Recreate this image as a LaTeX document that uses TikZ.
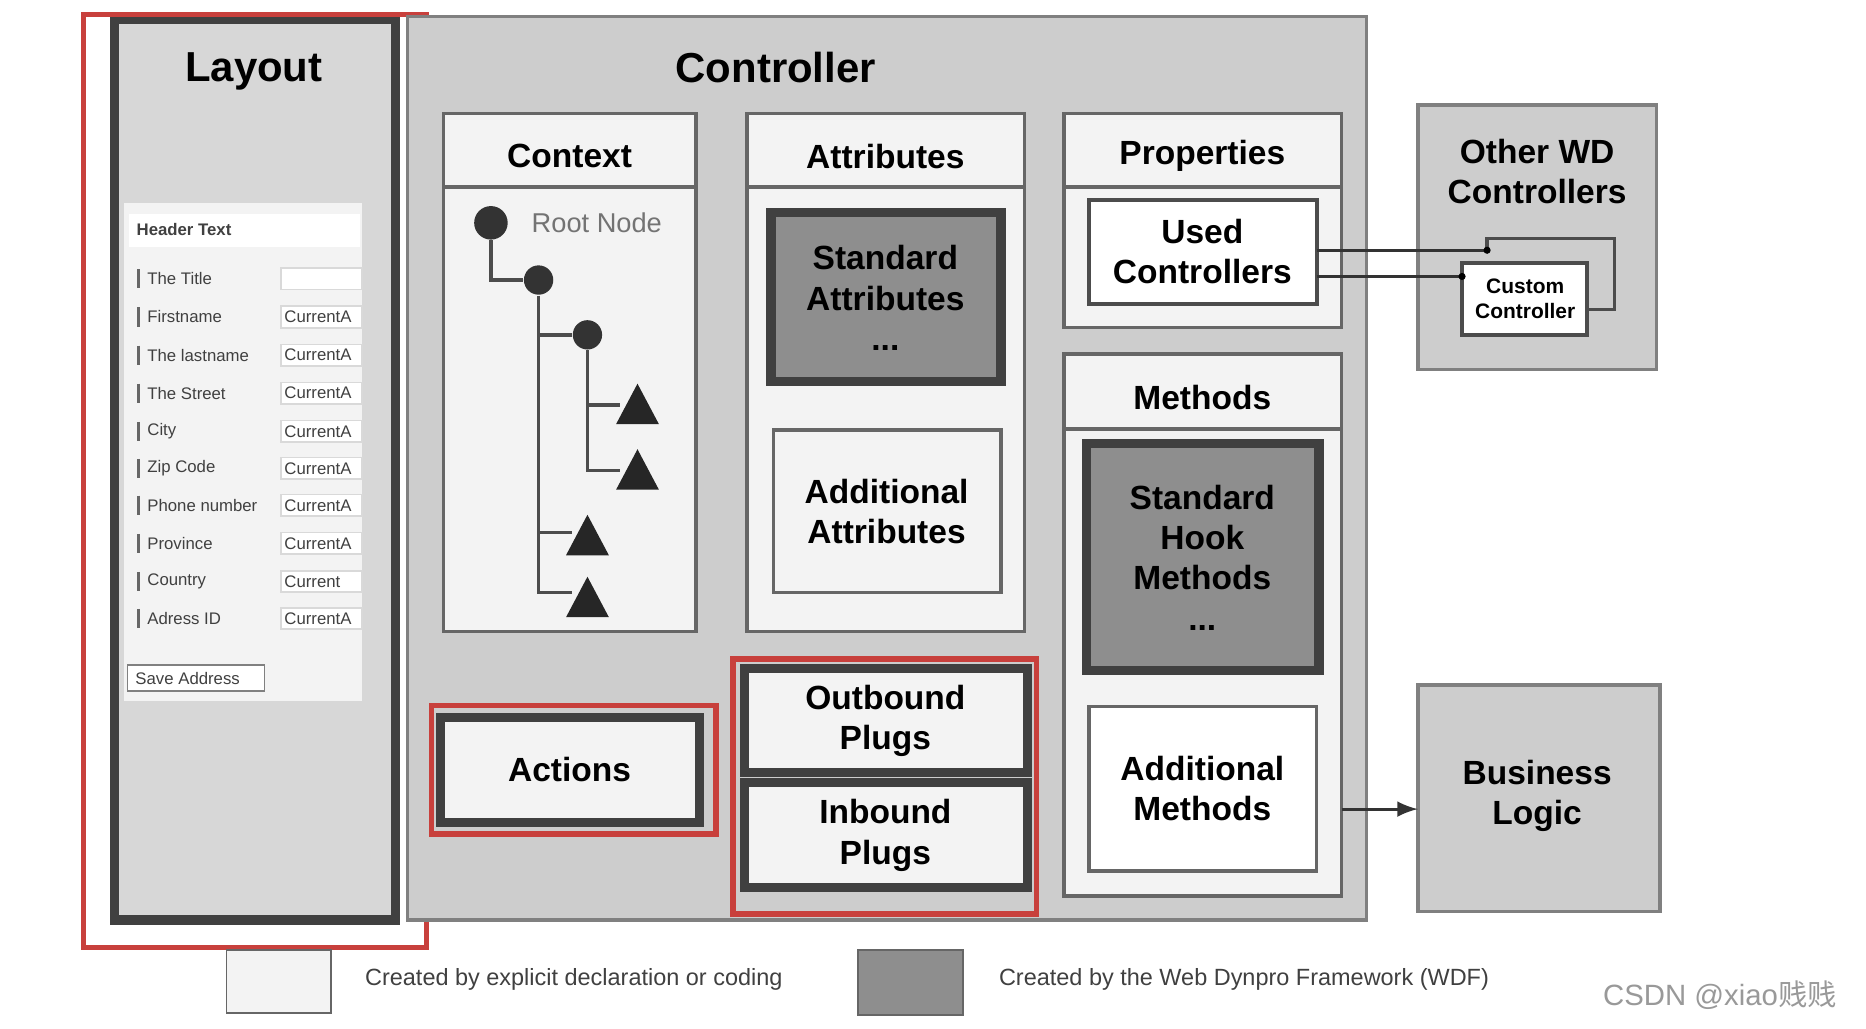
\documentclass[tikz,border=0pt]{standalone}
\usepackage{fontspec}
\setmainfont{Liberation Sans}
\newfontfamily\cjk{Noto Sans CJK SC}
\usetikzlibrary{positioning}
\definecolor{lightbox}{HTML}{F3F3F3}
\definecolor{midgray}{HTML}{CDCDCD}
\definecolor{darkbox}{HTML}{8E8E8E}
\definecolor{redline}{HTML}{C8403C}
\tikzset{
  pane/.style = {draw=black!60, line width=0.8pt, fill=lightbox},
  hdr/.style = {font=\bfseries\fontsize{8}{10}\selectfont},
  boxtxt/.style = {font=\bfseries\fontsize{8}{9.6}\selectfont, align=center},
  thickbox/.style = {draw=black!75, line width=2.2pt},
  redbox/.style = {draw=redline, line width=1.3pt},
  small/.style = {font=\fontsize{4}{5}\selectfont, text=black!75, anchor=west, inner sep=0pt},
  dot/.style = {circle, fill=black!80, minimum size=7pt, inner sep=0pt},
  tri/.style = {fill=black!85}
}
\begin{document}
\begin{tikzpicture}[x=0.01cm, y=-0.01cm]
\useasboundingbox (0,0) rectangle (1566,863);
\fill[white] (0,0) rectangle (1566,863);

% layout
\draw[thickbox, fill=midgray!80] (96,16) rectangle (332,772);
\node[font=\bfseries\fontsize{10}{12}\selectfont] (layout) at (213,60) {Layout};
\fill[lightbox] (104,170) rectangle (304,588);
\fill[white] (108,180) rectangle (302,207);
\node[small, font=\bfseries\fontsize{4}{5}\selectfont] (header) at (114,193) {Header Text};
\foreach \t/\y/\v in {The Title/234/, Firstname/266/CurrentA, The lastname/298/CurrentA,
  The Street/330/CurrentA, City/362/CurrentA, Zip Code/393/CurrentA, Phone number/424/CurrentA,
  Province/456/CurrentA, Country/488/Current, Adress ID/519/CurrentA} {
  \draw[black!60, line width=0.8pt] (116,\y-8) -- (116,\y+8);
  \node[small] at (123,\y) {\t};
  \draw[black!15, fill=white] (236,\y-9) rectangle (304,\y+9);
  \node[small] at (238,\y) {\v};
}
\draw[black!50, fill=white] (107,558) rectangle (222,580);
\node[small] (save) at (113,569) {Save Address};
\draw[redbox] (70,12) rectangle (358,795);

% controller
\draw[draw=black!50, line width=0.8pt, fill=midgray] (342,14) rectangle (1147,772);
\node[font=\bfseries\fontsize{10}{12}\selectfont] (ctrl) at (651,57) {Controller};

% context
\draw[pane] (372,95) rectangle (584,530);
\draw[black!60, line width=0.8pt] (372,157) -- (584,157);
\node[hdr] (context) at (478,131) {Context};
\node[dot, minimum size=8pt] (root) at (412,187) {};
\node[font=\fontsize{6.5}{8}\selectfont, text=black!55, right=2pt of root] (rootlbl) {Root Node};
\node[dot] (n1) at (452,235) {};
\node[dot] (n2) at (493,281) {};
\draw[black!70, line width=0.8pt] (root) |- (n1);
\draw[black!70, line width=0.8pt] (n1) -- (452,497) -- (480,497);
\draw[black!70, line width=0.8pt] (452,281) -- (n2);
\draw[black!70, line width=0.8pt] (452,447) -- (480,447);
\draw[black!70, line width=0.8pt] (n2) -- (493,395) -- (520,395);
\draw[black!70, line width=0.8pt] (493,340) -- (520,340);
\foreach \x/\y in {535/340, 535/395, 493/450, 493/502}
  \fill[tri] (\x-18,\y+16) -- (\x,\y-18) -- (\x+18,\y+16) -- cycle;

% attributes
\draw[pane] (627,95) rectangle (860,530);
\draw[black!60, line width=0.8pt] (627,157) -- (860,157);
\node[hdr] (attr) at (743,131) {Attributes};
\draw[thickbox, fill=darkbox] (647,178) rectangle (840,320);
\node[boxtxt] (stdattr) at (743,250) {Standard\\Attributes\\...};
\draw[draw=black!60, line width=0.8pt, fill=lightbox] (649,361) rectangle (840,497);
\node[boxtxt] (addattr) at (744,429) {Additional\\Attributes};

% properties
\draw[pane] (893,95) rectangle (1126,275);
\draw[black!60, line width=0.8pt] (893,157) -- (1126,157);
\node[hdr] (props) at (1009,131) {Properties};
\draw[draw=black!70, line width=1pt, fill=white] (914,168) rectangle (1105,255);
\node[boxtxt] (used) at (1009,211) {Used\\Controllers};

% methods
\draw[pane] (893,297) rectangle (1126,752);
\draw[black!60, line width=0.8pt] (893,360) -- (1126,360);
\node[hdr] (methods) at (1009,334) {Methods};
\draw[thickbox, fill=darkbox] (912,372) rectangle (1107,563);
\node[boxtxt] (hook) at (1009,468) {Standard\\Hook\\Methods\\...};
\draw[draw=black!60, line width=0.8pt, fill=white] (914,593) rectangle (1105,731);
\node[boxtxt] (addmeth) at (1009,662) {Additional\\Methods};

% actions and plugs
\draw[thickbox, fill=lightbox] (370,602) rectangle (587,690);
\node[boxtxt] (actions) at (478,646) {Actions};
\draw[redbox] (362,592) rectangle (601,700);
\draw[thickbox, fill=lightbox] (625,561) rectangle (862,648);
\node[boxtxt] (outb) at (743,605) {Outbound\\Plugs};
\draw[thickbox, fill=lightbox] (625,657) rectangle (862,745);
\node[boxtxt] (inb) at (743,701) {Inbound\\Plugs};
\draw[redbox] (615,553) rectangle (870,767);

% other controllers
\draw[draw=black!50, line width=0.8pt, fill=midgray] (1190,88) rectangle (1390,310);
\node[boxtxt] (other) at (1290,144) {Other WD\\Controllers};
\draw[draw=black!70, line width=0.8pt] (1248,210) -- (1248,200) -- (1355,200) -- (1355,260) -- (1332,260);
\draw[draw=black!70, line width=1pt, fill=white] (1227,221) rectangle (1332,281);
\node[font=\bfseries\fontsize{5}{6}\selectfont, align=center] (custom) at (1280,251) {Custom\\Controller};
\coordinate (k1) at (1248,210);
\coordinate (k2) at (1227,232);
\draw[black!80, line width=0.7pt] (1105,210) -- (k1);
\draw[black!80, line width=0.7pt] (1105,232) -- (k2);
\fill (k1) circle (3); \fill (k2) circle (3);

% business logic
\draw[draw=black!50, line width=0.8pt, fill=midgray] (1190,575) rectangle (1393,765);
\node[boxtxt] (bl) at (1290,668) {Business\\Logic};
\draw[-latex, black!80, line width=0.7pt] (1126,679) -- (1190,679);

% legend
\draw[black!60, fill=lightbox] (190,797) rectangle (278,850);
\node[font=\fontsize{5.6}{7}\selectfont, text=black!75, anchor=west] (leg1) at (294,822) {Created by explicit declaration or coding};
\draw[black!60, fill=darkbox] (720,797) rectangle (808,852);
\node[font=\fontsize{5.6}{7}\selectfont, text=black!75, anchor=west] (leg2) at (826,822) {Created by the Web Dynpro Framework (WDF)};
\node[font=\fontsize{7}{9}\selectfont, text=black!40, anchor=west] (wm) at (1333,835) {CSDN @xiao{\cjk 贱贱}};
\end{tikzpicture}
\end{document}
